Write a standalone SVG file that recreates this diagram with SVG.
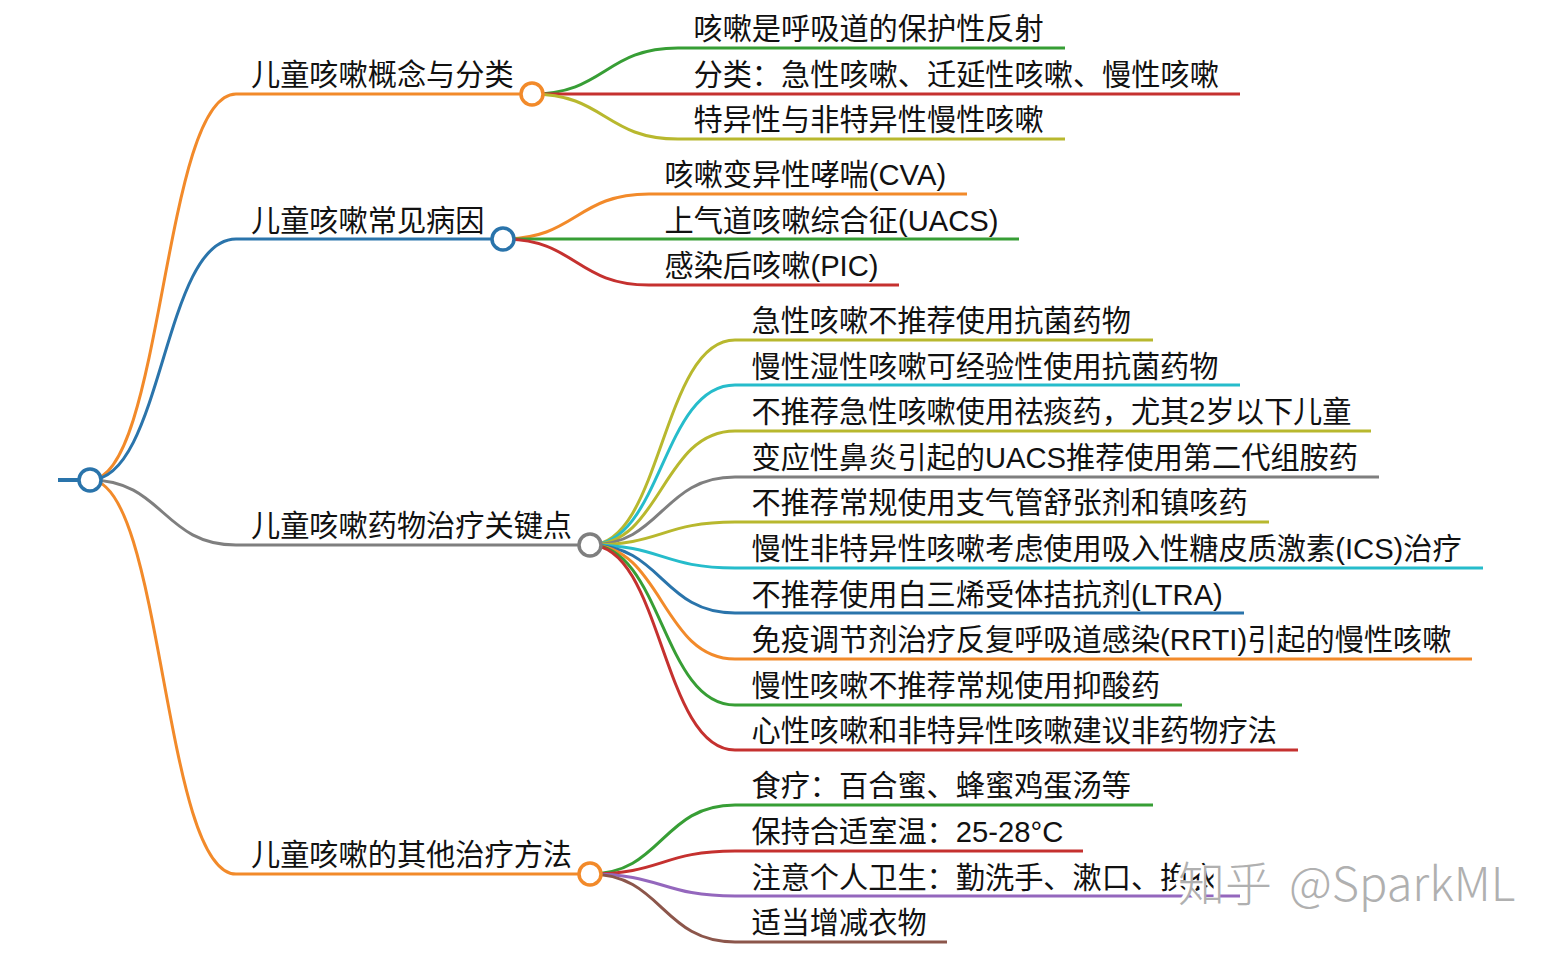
<svg xmlns="http://www.w3.org/2000/svg" width="1552" height="954" viewBox="0 0 1552 954">
<style>
text{font-family:"Liberation Sans","Noto Sans CJK SC",sans-serif;font-size:29.2px;fill:#111}
.wm{font-family:"Noto Sans CJK SC","Noto Sans",sans-serif;font-size:47px;font-weight:300}
path{fill:none;stroke-width:3}
circle{fill:#fff;stroke-width:3.5}
.o{stroke:#f28a2a}.b{stroke:#2a74ab}.g{stroke:#379e35}.r{stroke:#c5312f}.p{stroke:#9467bd}.n{stroke:#8c564b}.k{stroke:#7f7f7f}.y{stroke:#b8b82e}.c{stroke:#26bccb}
</style>
<g id="connectors">
<path class="b" d="M58 480H80" style="stroke-width:4"/>
<path class="o" d="M90 480C163 480 163 94 236 94H521"/>
<path class="b" d="M90 480C163 480 163 239 236 239H492"/>
<path class="k" d="M90 480C163 480 163 545 236 545H579"/>
<path class="o" d="M90 480C163 480 163 874 236 874H579"/>
<path class="g" d="M532 94C605 94 605 48 678 48H1065"/>
<path class="r" d="M532 94H1240"/>
<path class="y" d="M532 94C605 94 605 139 678 139H1065"/>
<path class="o" d="M503 239C576 239 576 194 649 194H967"/>
<path class="g" d="M503 239H1019"/>
<path class="r" d="M503 239C576 239 576 285 649 285H899"/>
<path class="y" d="M590 545C662 545 662 340 735 340H1153"/>
<path class="c" d="M590 545C662 545 662 385 735 385H1240"/>
<path class="y" d="M590 545C662 545 662 431 735 431H1371"/>
<path class="k" d="M590 545C662 545 662 477 735 477H1379"/>
<path class="y" d="M590 545C662 545 662 522 735 522H1269"/>
<path class="c" d="M590 545C662 545 662 568 735 568H1483"/>
<path class="b" d="M590 545C662 545 662 613 735 613H1244"/>
<path class="o" d="M590 545C662 545 662 659 735 659H1472"/>
<path class="g" d="M590 545C662 545 662 705 735 705H1182"/>
<path class="r" d="M590 545C662 545 662 750 735 750H1298"/>
<path class="g" d="M590 874C662 874 662 805 735 805H1153"/>
<path class="r" d="M590 874C662 874 662 851 735 851H1083"/>
<path class="p" d="M590 874C662 874 662 896 735 896H1240"/>
<path class="n" d="M590 874C662 874 662 942 735 942H947"/>
</g>
<g id="root"><circle class="b" cx="90" cy="480" r="11"/></g>
<g id="n1"><text x="251" y="85">儿童咳嗽概念与分类</text><circle class="o" cx="532" cy="94" r="11"/></g>
<g id="n1-1"><text x="693.5" y="39">咳嗽是呼吸道的保护性反射</text></g>
<g id="n1-2"><text x="693.5" y="85">分类：急性咳嗽、迁延性咳嗽、慢性咳嗽</text></g>
<g id="n1-3"><text x="693.5" y="130">特异性与非特异性慢性咳嗽</text></g>
<g id="n2"><text x="251" y="231">儿童咳嗽常见病因</text><circle class="b" cx="503" cy="239" r="11"/></g>
<g id="n2-1"><text x="664.5" y="185">咳嗽变异性哮喘(CVA)</text></g>
<g id="n2-2"><text x="664.5" y="231">上气道咳嗽综合征(UACS)</text></g>
<g id="n2-3"><text x="664.5" y="276">感染后咳嗽(PIC)</text></g>
<g id="n3"><text x="251" y="536">儿童咳嗽药物治疗关键点</text><circle class="k" cx="590" cy="545" r="11"/></g>
<g id="n3-1"><text x="751.5" y="331">急性咳嗽不推荐使用抗菌药物</text></g>
<g id="n3-2"><text x="751.5" y="377">慢性湿性咳嗽可经验性使用抗菌药物</text></g>
<g id="n3-3"><text x="751.5" y="422">不推荐急性咳嗽使用祛痰药，尤其2岁以下儿童</text></g>
<g id="n3-4"><text x="751.5" y="468">变应性鼻炎引起的UACS推荐使用第二代组胺药</text></g>
<g id="n3-5"><text x="751.5" y="513">不推荐常规使用支气管舒张剂和镇咳药</text></g>
<g id="n3-6"><text x="751.5" y="559">慢性非特异性咳嗽考虑使用吸入性糖皮质激素(ICS)治疗</text></g>
<g id="n3-7"><text x="751.5" y="605">不推荐使用白三烯受体拮抗剂(LTRA)</text></g>
<g id="n3-8"><text x="751.5" y="650">免疫调节剂治疗反复呼吸道感染(RRTI)引起的慢性咳嗽</text></g>
<g id="n3-9"><text x="751.5" y="696">慢性咳嗽不推荐常规使用抑酸药</text></g>
<g id="n3-10"><text x="751.5" y="741">心性咳嗽和非特异性咳嗽建议非药物疗法</text></g>
<g id="n4"><text x="251" y="865">儿童咳嗽的其他治疗方法</text><circle class="o" cx="590" cy="874" r="11"/></g>
<g id="n4-1"><text x="751.5" y="796">食疗：百合蜜、蜂蜜鸡蛋汤等</text></g>
<g id="n4-2"><text x="751.5" y="842">保持合适室温：25-28°C</text></g>
<g id="n4-3"><text x="751.5" y="888">注意个人卫生：勤洗手、漱口、换衣</text></g>
<g id="n4-4"><text x="751.5" y="933">适当增减衣物</text></g>
<g id="watermark">
<text class="wm" y="902" style="fill:#fff;stroke:#fff;stroke-width:3"><tspan x="1175">知乎</tspan><tspan x="1286">@SparkML</tspan></text>
<text class="wm" y="901" style="fill:#b0b0b0"><tspan x="1178">知乎</tspan><tspan x="1289">@SparkML</tspan></text>
</g>
</svg>
